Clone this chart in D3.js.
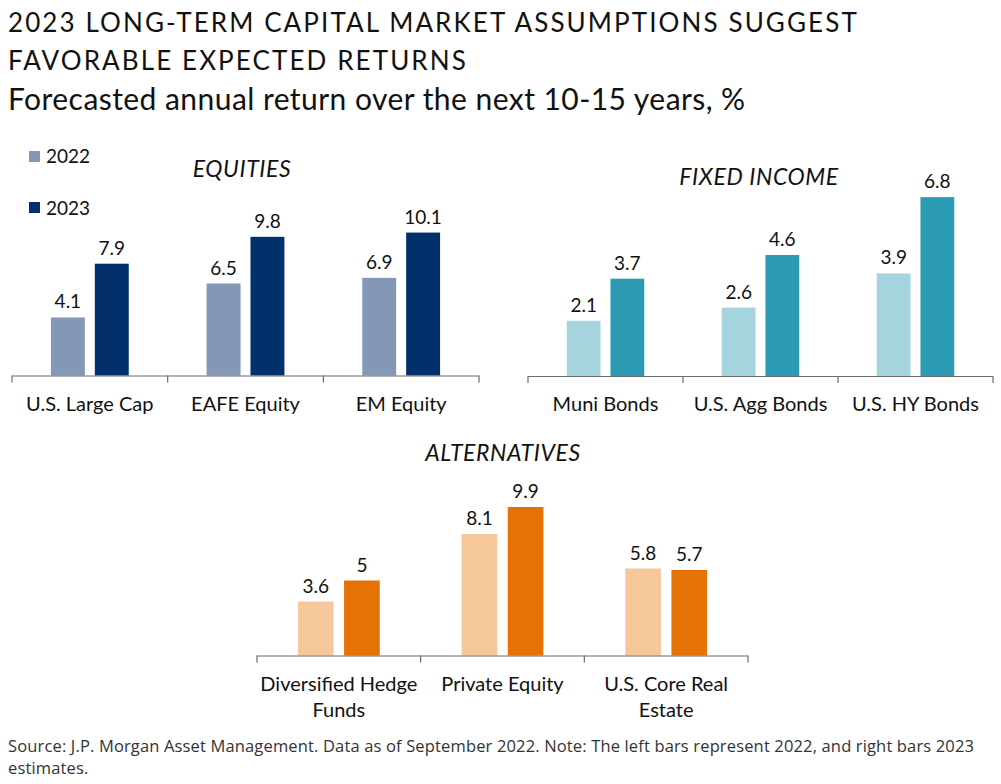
<!DOCTYPE html>
<html>
<head>
<meta charset="utf-8">
<script src="https://cdn.jsdelivr.net/npm/d3@7"></script>
<style>
  body { margin: 0; background: #fff; }
  svg { display: block; font-family: Lato, "Noto Sans", sans-serif; }
</style>
</head>
<body>
<svg id="chart" width="1001" height="784"></svg>
<script>
// data
const years = ["2022", "2023"];

const equityCats = ["U.S. Large Cap", "EAFE Equity", "EM Equity"];
const equity2022 = [4.1, 6.5, 6.9];
const equity2023 = [7.9, 9.8, 10.1];

const fixedCats = ["Muni Bonds", "U.S. Agg Bonds", "U.S. HY Bonds"];
const fixed2022 = [2.1, 2.6, 3.9];
const fixed2023 = [3.7, 4.6, 6.8];

const altCats = ["Diversified Hedge Funds", "Private Equity", "U.S. Core Real Estate"];
const alt2022 = [3.6, 8.1, 5.8];
const alt2023 = [5.0, 9.9, 5.7];

const svg = d3.select("#chart");

// titles
svg.append("text").attr("x", 8).attr("y", 32)
  .attr("font-size", 26).attr("letter-spacing", 2.1).attr("fill", "#111")
  .text("2023 LONG-TERM CAPITAL MARKET ASSUMPTIONS SUGGEST");
svg.append("text").attr("x", 8).attr("y", 70)
  .attr("font-size", 26).attr("letter-spacing", 2.1).attr("fill", "#111")
  .text("FAVORABLE EXPECTED RETURNS");
svg.append("text").attr("x", 8).attr("y", 110)
  .attr("font-size", 30).attr("letter-spacing", 0.45).attr("fill", "#111")
  .text("Forecasted annual return over the next 10-15 years, %");

// legend
const legend = svg.append("g");
years.forEach(function(yr, i) {
  legend.append("rect")
    .attr("x", 29).attr("y", 151 + i * 51)
    .attr("width", 11).attr("height", 11)
    .attr("fill", ["#8497b6", "#01306b"][i]);
  legend.append("text")
    .attr("x", 46).attr("y", 163 + i * 52)
    .attr("font-size", 19).attr("fill", "#111")
    .text(yr);
});

function wrap(text, width) {
  text.each(function() {
    const t = d3.select(this);
    const words = t.text().split(" ");
    const x = t.attr("x"), y = t.attr("y");
    t.text(null);
    let line = [];
    let tspan = t.append("tspan").attr("x", x).attr("y", y);
    let lineNo = 0;
    words.forEach(function(w) {
      line.push(w);
      tspan.text(line.join(" "));
      if (tspan.node().getComputedTextLength() > width && line.length > 1) {
        line.pop();
        tspan.text(line.join(" "));
        line = [w];
        lineNo++;
        tspan = t.append("tspan").attr("x", x).attr("y", +y + lineNo * 26).text(w);
      }
    });
  });
}

function drawPanel(p) {
  const g = svg.append("g");

  const x0 = d3.scaleBand().domain(p.cats).range([p.left, p.right]).padding(0);
  const x1 = d3.scaleBand().domain(years)
    .range([x0.bandwidth() * 0.25, x0.bandwidth() * 0.75])
    .paddingInner(0.227);
  const y = d3.scaleLinear().domain([0, 10]).range([p.base, p.base - p.unit * 10]);

  const rows = p.cats.map(function(c, i) {
    return { cat: c, values: [p.v2022[i], p.v2023[i]] };
  });

  const grp = g.selectAll("g.cat").data(rows).enter().append("g")
    .attr("class", "cat")
    .attr("transform", function(d) { return "translate(" + x0(d.cat) + ",0)"; });

  grp.selectAll("rect").data(function(d) { return d.values; }).enter().append("rect")
    .attr("x", function(d, i) { return x1(years[i]); })
    .attr("y", function(d) { return y(d); })
    .attr("width", x1.bandwidth())
    .attr("height", function(d) { return y(0) - y(d); })
    .attr("fill", function(d, i) { return p.colors[i]; });

  grp.selectAll("text.val").data(function(d) { return d.values; }).enter().append("text")
    .attr("class", "val")
    .attr("x", function(d, i) { return x1(years[i]) + x1.bandwidth() / 2; })
    .attr("y", function(d) { return y(d) - 9; })
    .attr("text-anchor", "middle")
    .attr("font-size", 19).attr("fill", "#111")
    .text(function(d) { return d; });

  // axis line with ticks at band edges
  g.append("line")
    .attr("x1", p.left).attr("x2", p.right)
    .attr("y1", y(0) + 0.5).attr("y2", y(0) + 0.5)
    .attr("stroke", "#6b6b6b").attr("stroke-width", 1.2);
  const edges = p.cats.map(function(c) { return x0(c); }).concat([p.right]);
  g.selectAll("line.tick").data(edges).enter().append("line")
    .attr("class", "tick")
    .attr("x1", function(d) { return d; }).attr("x2", function(d) { return d; })
    .attr("y1", y(0)).attr("y2", y(0) + 7)
    .attr("stroke", "#6b6b6b").attr("stroke-width", 1.2);

  g.selectAll("text.cat").data(p.cats).enter().append("text")
    .attr("class", "cat")
    .attr("x", function(d) { return x0(d) + x0.bandwidth() / 2; })
    .attr("y", y(0) + 35)
    .attr("text-anchor", "middle")
    .attr("font-size", 20).attr("fill", "#111")
    .text(function(d) { return d; })
    .call(wrap, x0.bandwidth());

  g.append("text")
    .attr("x", p.titleX).attr("y", p.titleY)
    .attr("text-anchor", "middle")
    .attr("font-size", 23).attr("font-style", "italic").attr("letter-spacing", 0.6)
    .attr("fill", "#111")
    .text(p.title);
}

drawPanel({
  title: "EQUITIES", titleX: 242, titleY: 177,
  cats: equityCats, v2022: equity2022, v2023: equity2023,
  left: 12, right: 479, base: 375.5, unit: 14.15,
  colors: ["#8497b6", "#01306b"]
});

drawPanel({
  title: "FIXED INCOME", titleX: 759, titleY: 185,
  cats: fixedCats, v2022: fixed2022, v2023: fixed2023,
  left: 528, right: 993, base: 376, unit: 26.3,
  colors: ["#a6d4de", "#2b9bb4"]
});

drawPanel({
  title: "ALTERNATIVES", titleX: 503, titleY: 461,
  cats: altCats, v2022: alt2022, v2023: alt2023,
  left: 257, right: 748, base: 655.5, unit: 15.0,
  colors: ["#f6c79a", "#e47205"]
});

// source note
const note = svg.append("text").attr("font-size", 16.5).attr("letter-spacing", 0.15)
  .attr("fill", "#333")
  .attr("font-family", "'Open Sans', sans-serif");
note.append("tspan").attr("x", 8).attr("y", 752)
  .text("Source: J.P. Morgan Asset Management. Data as of September 2022. Note: The left bars represent 2022, and right bars 2023");
note.append("tspan").attr("x", 8).attr("y", 774)
  .text("estimates.");
</script>
</body>
</html>
